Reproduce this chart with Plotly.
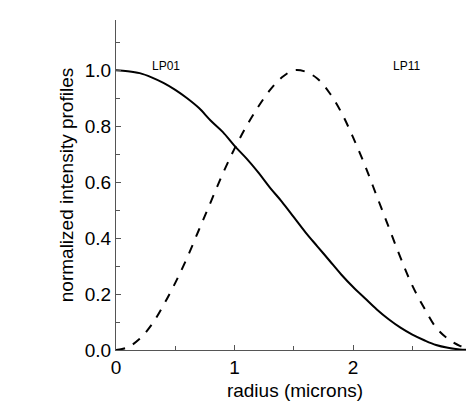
import plotly.graph_objects as go

radius = [0.0, 0.1, 0.2, 0.3, 0.4, 0.5, 0.6, 0.7, 0.8, 0.9, 1.0, 1.1, 1.2, 1.3, 1.4, 1.5,
          1.6, 1.7, 1.8, 1.9, 2.0, 2.1, 2.2, 2.3, 2.4, 2.5, 2.6, 2.7, 2.8, 2.9, 3.0]
lp01 = [1.0, 0.997, 0.99, 0.975, 0.955, 0.93, 0.9, 0.865, 0.82, 0.78, 0.73, 0.685, 0.635,
        0.58, 0.53, 0.475, 0.42, 0.37, 0.32, 0.27, 0.225, 0.185, 0.145, 0.11, 0.08, 0.055,
        0.035, 0.018, 0.008, 0.002, 0.0]
lp11 = [0.0, 0.01, 0.04, 0.09, 0.16, 0.24, 0.33, 0.43, 0.53, 0.63, 0.72, 0.8, 0.87, 0.93,
        0.975, 1.0, 0.995, 0.97, 0.92, 0.85, 0.76, 0.66, 0.55, 0.44, 0.33, 0.23, 0.15, 0.08,
        0.04, 0.015, 0.0]

fig = go.Figure()
fig.add_trace(go.Scatter(x=radius, y=lp01, mode="lines", line=dict(color="black", width=2, shape="spline")))
fig.add_trace(go.Scatter(x=radius, y=lp11, mode="lines",
                         line=dict(color="black", width=2, dash="dash", shape="spline")))

fig.add_annotation(x=0.42, y=1.015, text="LP01", showarrow=False, font=dict(size=12, color="black"))
fig.add_annotation(x=2.45, y=1.015, text="LP11", showarrow=False, font=dict(size=12, color="black"))

axis_common = dict(showgrid=False, zeroline=False, showline=True, linecolor="#555", linewidth=1,
                   ticks="inside", tickcolor="#555", ticklen=5, automargin=False,
                   tickfont=dict(size=19, color="black"))
fig.update_xaxes(range=[0, 3.02], tickvals=[0, 1, 2, 3],
                 minor=dict(ticks="inside", ticklen=4, tickcolor="#555", dtick=0.5, tick0=0),
                 title=dict(text="radius (microns)", font=dict(size=19, color="black"), standoff=6),
                 **axis_common)
fig.update_yaxes(range=[0, 1.18], tickvals=[0, 0.2, 0.4, 0.6, 0.8, 1.0], tickformat=".1f",
                 mirror="ticks",
                 minor=dict(ticks="inside", ticklen=4, tickcolor="#555", dtick=0.1, tick0=0),
                 title=dict(text="normalized intensity profiles", font=dict(size=19, color="black"),
                            standoff=6),
                 **axis_common)
fig.update_layout(width=474, height=406, showlegend=False, plot_bgcolor="white",
                  paper_bgcolor="white", font=dict(family="Liberation Sans"),
                  margin=dict(l=108, r=8, t=12, b=64))
fig.write_html("out.html")
